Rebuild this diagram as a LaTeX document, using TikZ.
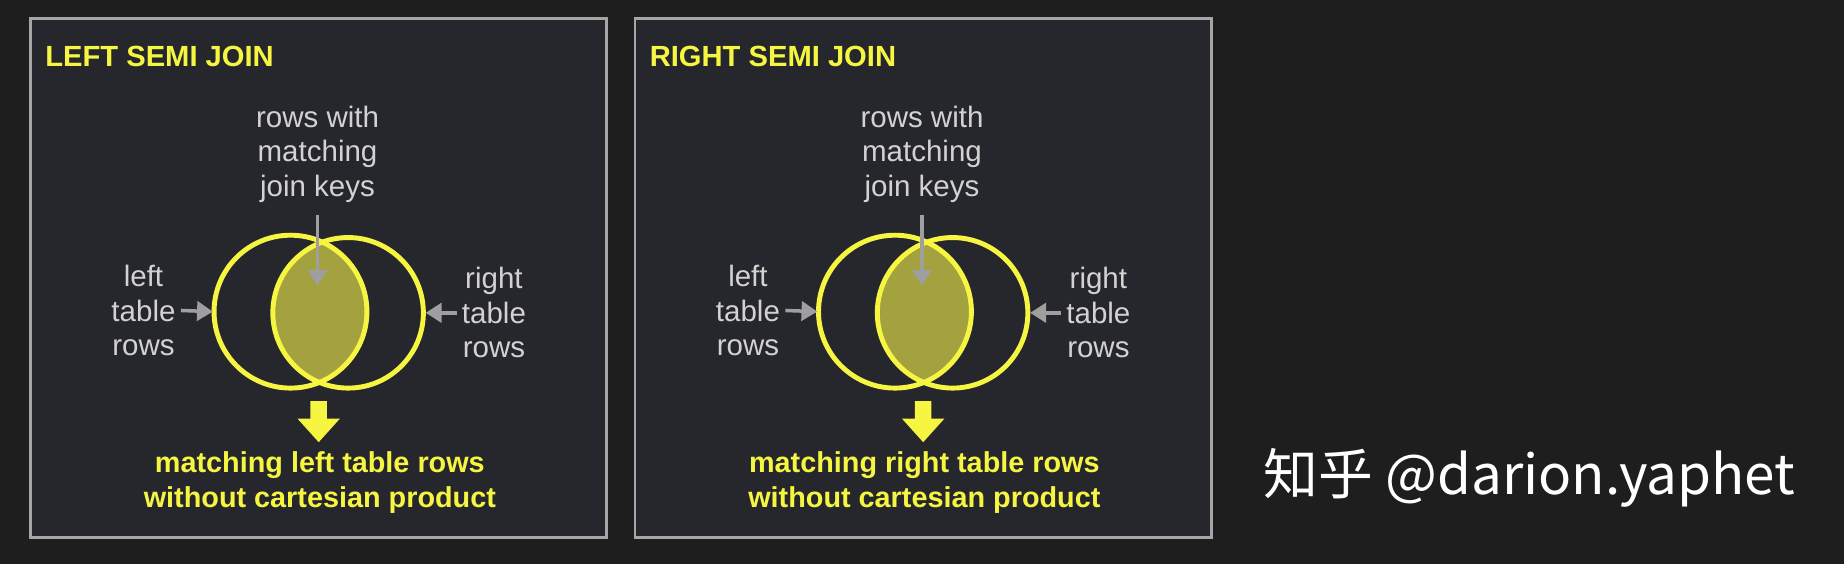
\documentclass[tikz,border=0pt]{standalone}
\usepackage{fontspec}
\setmainfont{Liberation Sans}
\newfontfamily\cjk{Noto Sans CJK SC}
\usetikzlibrary{arrows.meta}
\definecolor{bgc}{HTML}{1E1E1F}
\definecolor{panelc}{HTML}{26272C}
\definecolor{yel}{HTML}{F5F542}
\definecolor{lens}{HTML}{A3A23E}
\definecolor{txt}{HTML}{D2D2D2}
\tikzset{
  panel/.style={draw=gray!70,fill=panelc,line width=0.8pt},
  title/.style={text=yel,font=\fontsize{8.3}{9.6}\selectfont\bfseries,anchor=west},
  lab/.style={text=txt,font=\fontsize{8.4}{9.8}\selectfont,align=center},
  res/.style={text=yel,font=\fontsize{8.2}{9.9}\selectfont\bfseries,align=center},
  ring/.style={draw=yel,line width=1.4pt},
  garr/.style={draw=gray!75,line width=1pt,-{Triangle[length=4.5pt,width=5.5pt]}},
  bigarr/.style={fill=yel}
}
\begin{document}
\begin{tikzpicture}[x=0.01176cm,y=-0.01176cm]
\fill[bgc] (0,0) rectangle (1568,480);
\useasboundingbox (0,0) rectangle (1568,480);
\foreach \dx/\nm/\T/\R in {0/a/LEFT SEMI JOIN/matching left table rows,514/b/RIGHT SEMI JOIN/matching right table rows}{
  \begin{scope}[xshift=\dx*0.01176cm]
  \draw[panel] (26,16) rectangle (516,457);
  \node[title] (t\nm) at (28,48) {\T};
  \begin{scope}
    \clip (247,265) circle (65);
    \fill[lens] (296,266) circle (64);
  \end{scope}
  \draw[ring] (247,265) circle (65);
  \draw[ring] (296,266) circle (64);
  \coordinate (lensc\nm) at (270,243);
  \node[lab] (k\nm) at (270,131) {rows with\\matching\\join keys};
  \draw[garr] (k\nm.south) -- (lensc\nm);
  \node[lab] (l\nm) at (122,264) {left\\table\\rows};
  \coordinate (lc\nm) at (181,265);
  \draw[garr] (l\nm.east) ++(-6,0) -- (lc\nm);
  \node[lab] (r\nm) at (420,266) {right\\table\\rows};
  \coordinate (rc\nm) at (362,266);
  \draw[garr] (r\nm.west) ++(6,0) -- (rc\nm);
  \fill[bigarr] (264,341) -- (278,341) -- (278,356) -- (289,356) -- (271,376) -- (253,356) -- (264,356) -- cycle;
  \node[res] (o\nm) at (272,410) {\R\\without cartesian product};
  \end{scope}
}
\node[text=white,font=\cjk\fontsize{15.6}{16}\selectfont,anchor=west] (wm) at (1064,406) {知乎 @darion.yaphet};
\end{tikzpicture}
\end{document}
